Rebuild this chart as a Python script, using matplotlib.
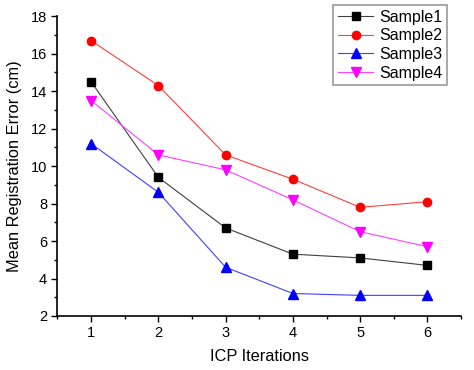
import matplotlib
matplotlib.use("Agg")
import matplotlib.pyplot as plt
from matplotlib.ticker import MultipleLocator

plt.rcParams['font.family'] = ['Liberation Sans', 'DejaVu Sans']

iterations = [1, 2, 3, 4, 5, 6]
sample1 = [14.5, 9.4, 6.7, 5.3, 5.1, 4.7]
sample2 = [16.7, 14.3, 10.6, 9.3, 7.8, 8.1]
sample3 = [11.2, 8.6, 4.6, 3.2, 3.1, 3.1]
sample4 = [13.5, 10.6, 9.8, 8.2, 6.5, 5.7]

fig = plt.figure(figsize=(4.74, 3.70), dpi=100)
ax = fig.add_axes([0.1213, 0.146, 0.8513, 0.81])

ax.plot(iterations, sample1, color='#404040', lw=0.8, marker='s', ms=5.5, mfc='black', mec='black', label='Sample1')
ax.plot(iterations, sample2, color='#ff4040', lw=0.8, marker='o', ms=6, mfc='red', mec='red', label='Sample2')
ax.plot(iterations, sample3, color='#4040ff', lw=0.8, marker='^', ms=6.5, mfc='blue', mec='blue', label='Sample3')
ax.plot(iterations, sample4, color='#ff40ff', lw=0.8, marker='v', ms=6.5, mfc='magenta', mec='magenta', label='Sample4')

ax.set_xlim(0.5, 6.5)
ax.set_ylim(2, 18)
ax.xaxis.set_major_locator(MultipleLocator(1))
ax.xaxis.set_minor_locator(MultipleLocator(0.5))
ax.yaxis.set_major_locator(MultipleLocator(2))
ax.yaxis.set_minor_locator(MultipleLocator(1))
ax.tick_params(which='major', direction='out', length=4, width=1, labelsize=10.5)
ax.tick_params(which='minor', direction='out', length=2.5, width=1)
for s in ['top', 'right']:
    ax.spines[s].set_visible(False)
for s in ['left', 'bottom']:
    ax.spines[s].set_linewidth(1.2)

ax.set_xlabel('ICP Iterations', fontsize=11.8, labelpad=6)
ax.set_ylabel('Mean Registration Error (cm)', fontsize=11.8, labelpad=6)

leg = fig.legend(loc='upper right', bbox_to_anchor=(0.943, 0.986), fontsize=11.5,
                 frameon=True, fancybox=False, edgecolor='#808080',
                 handlelength=2.2, handletextpad=0.35, borderpad=0.3, labelspacing=0.22,
                 borderaxespad=0)
leg.get_frame().set_linewidth(1.2)

fig.savefig('out.png', dpi=100)
